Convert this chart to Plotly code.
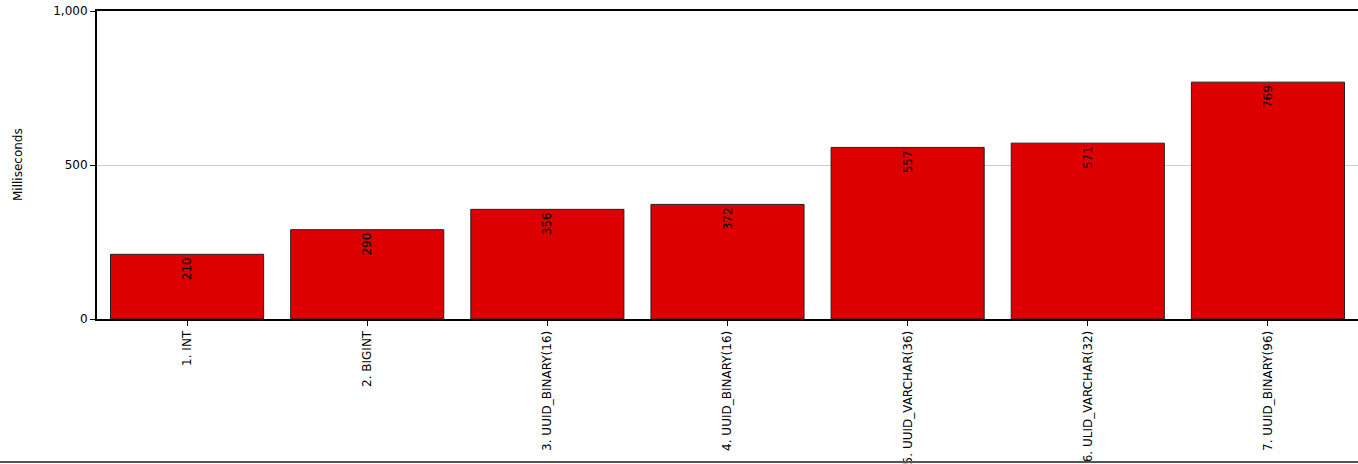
import plotly.graph_objects as go

# tipos de clave y tiempo medido (ms)
tipos = ["1. INT", "2. BIGINT", "3. UUID_BINARY(16)", "4. UUID_BINARY(16)",
         "5. UUID_VARCHAR(36)", "6. ULID_VARCHAR(32)", "7. UUID_BINARY(96)"]
tiempos = [210, 290, 356, 372, 557, 571, 769]

fuente = "DejaVu Sans"
tam = 12

fig = go.Figure()
fig.add_trace(go.Bar(
    x=tipos,
    y=tiempos,
    marker=dict(color="#dd0000", line=dict(color="#222222", width=1)),
    texttemplate="%{y}",
    textposition="inside",
    insidetextanchor="end",
    textangle=-90,
    textfont=dict(family=fuente, size=tam, color="black"),
    hoverinfo="skip",
))

fig.update_layout(
    template="none",
    width=1358,
    height=464,
    margin=dict(l=97, r=0, t=11, b=145, autoexpand=False),
    paper_bgcolor="white",
    plot_bgcolor="white",
    bargap=0.15,
    showlegend=False,
    font=dict(family=fuente, size=tam, color="black"),
)

fig.update_xaxes(
    automargin=False,
    tickangle=-90,
    ticks="outside",
    ticklen=5,
    tickcolor="black",
    showline=True,
    linecolor="black",
    linewidth=2,
    mirror=True,
    showgrid=False,
    ticklabeloverflow="allow",
    tickfont=dict(family=fuente, size=tam, color="black"),
)

fig.update_yaxes(
    automargin=False,
    range=[0, 1000],
    dtick=500,
    tickformat=",",
    ticks="outside",
    ticklen=5,
    tickcolor="black",
    showline=True,
    linecolor="black",
    linewidth=2,
    showgrid=True,
    gridcolor="#cccccc",
    gridwidth=1,
    zeroline=False,
    ticklabeloverflow="allow",
    tickfont=dict(family=fuente, size=tam, color="black"),
)

# titulo del eje y
fig.add_annotation(text="Milliseconds", xref="paper", yref="paper",
                   x=0, y=0.5, xshift=-88, textangle=-90, showarrow=False,
                   font=dict(family=fuente, size=tam, color="black"))

# linea gris del borde inferior
fig.add_shape(type="line", xref="paper", yref="paper",
              x0=-97 / 1261, x1=1, y0=-143 / 308, y1=-143 / 308,
              line=dict(color="#555555", width=2))

# quitar el margen del body para que la figura empiece en 0,0
fig.write_html("out.html", config={"displayModeBar": False},
               post_script="document.body.style.margin='0';")
